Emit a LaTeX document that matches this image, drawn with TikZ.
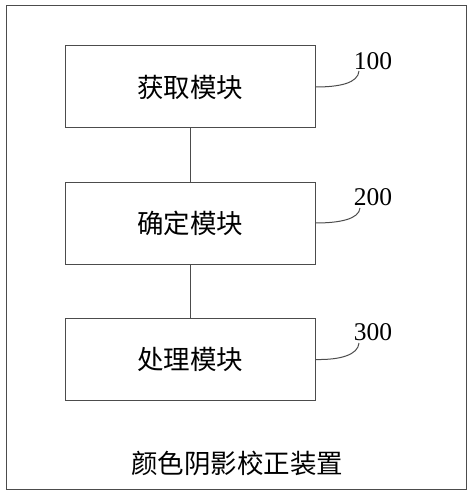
\documentclass[tikz,border=0pt]{standalone}
\usepackage{fontspec}
\setmainfont{Liberation Serif}
\newfontfamily\cjk{Noto Sans CJK SC}
\begin{document}
\begin{tikzpicture}[x=1pt,y=-1pt,
  ln/.style={draw=black!70, line width=1pt},
  modbox/.style={ln, minimum width=250pt, minimum height=82pt, inner sep=0pt, font=\cjk\fontsize{26.5}{26.5}\selectfont},
  numlbl/.style={font=\fontsize{25.5}{25.5}\selectfont, inner sep=0pt}]
\useasboundingbox (0,0) rectangle (474,497);
\draw[ln] (6,6) rectangle (466,489);
\node[modbox] (m1) at (190,87) {获取模块};
\node[modbox] (m2) at (190,223) {确定模块};
\node[modbox] (m3) at (190,359.5) {处理模块};
\draw[ln] (m1) -- (m2);
\draw[ln] (m2) -- (m3);
\node[numlbl] (l1) at (373,61) {100};
\node[numlbl] (l2) at (373,197) {200};
\node[numlbl] (l3) at (373,332) {300};
\coordinate (e1) at (359,71);
\coordinate (e2) at (360,208);
\coordinate (e3) at (359,343);
\draw[ln] (m1.east) .. controls (340,87) and (358,83) .. (e1);
\draw[ln] (m2.east) .. controls (340,223) and (359,219) .. (e2);
\draw[ln] (m3.east) .. controls (340,360) and (358,355) .. (e3);
\node[font=\cjk\fontsize{26.5}{26.5}\selectfont, inner sep=0pt] (cap) at (237,463) {颜色阴影校正装置};
\end{tikzpicture}
\end{document}
